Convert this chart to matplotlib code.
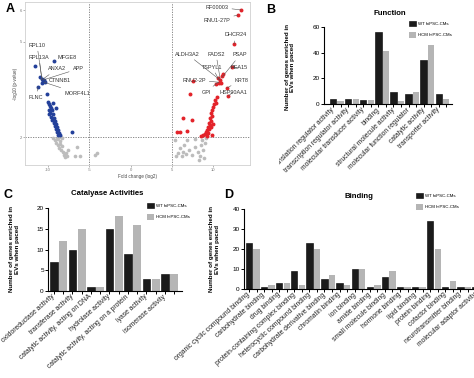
import numpy as np
import matplotlib
matplotlib.use("Agg")
import matplotlib.pyplot as plt
from matplotlib.transforms import Bbox

plt.rcParams['font.family'] = ['Liberation Sans', 'DejaVu Sans']

# ---------------- data: volcano (panel A) ----------------
blue_fc = [-11.58, -9.27, -10.97, -10.73, -10.61, -10.48, -10.73, -10.36, -11.21, -10.12,
           -10.0, -9.88, -9.76, -9.64, -9.88, -9.52, -9.03, -9.76, -9.39, -9.64,
           -9.27, -9.52, -9.15, -9.27, -9.03, -9.15, -8.91, -9.03, -8.79, -8.91,
           -8.67, -8.55, -8.79, -7.09, -9.88, -9.39]
blue_p = [4.24, 4.40, 3.89, 3.83, 3.77, 3.80, 3.70, 3.73, 3.58, 3.36,
          3.10, 3.04, 2.98, 2.91, 2.85, 2.85, 2.91, 2.76, 2.73, 2.63,
          2.60, 2.54, 2.50, 2.44, 2.41, 2.35, 2.32, 2.25, 2.22, 2.16,
          2.13, 2.06, 2.06, 2.16, 2.73, 3.07]

red_fc = [13.39, 13.03, 12.55, 12.30, 11.70, 11.82, 7.58, 7.21, 6.36, 7.45,
          5.64, 6.00, 6.85, 9.88, 10.85, 10.61, 11.09, 10.73, 10.36, 10.97,
          11.21, 10.24, 10.12, 10.00, 9.88, 9.76, 9.88, 9.64, 9.76, 9.52,
          9.64, 9.39, 9.52, 9.27, 9.15, 9.39, 9.03, 8.79, 8.55, 9.76,
          10.0, 10.36, 10.48, 9.27]
red_p = [6.01, 5.85, 4.93, 4.21, 3.55, 3.29, 3.77, 3.36, 2.60, 2.54,
         2.16, 2.16, 2.19, 2.06, 3.80, 3.86, 3.92, 3.70, 3.67, 3.70,
         3.99, 3.17, 3.04, 2.95, 2.85, 2.76, 2.66, 2.60, 2.50, 2.44,
         2.38, 2.32, 2.25, 2.22, 2.16, 2.13, 2.09, 2.06, 2.03, 2.32,
         2.41, 3.07, 3.26, 2.03]

grey_fc = [-9.39, -9.15, -8.91, -9.03, -8.79, -8.55, -8.67, -8.42, -8.30, -8.18,
           -8.06, -7.82, -7.94, -8.55, -8.30, -7.70, -7.58, -8.79, -8.42, -6.48,
           -6.12, -6.73, -4.06, -4.30,
           5.39, 6.00, 5.76, 6.36, 6.73, 7.09, 7.45, 6.48, 7.82, 8.18,
           8.42, 8.55, 8.67, 8.79, 8.91, 9.03, 9.15, 8.30, 6.85, 7.82, 6.24, 5.52]
grey_p = [1.97, 1.91, 1.94, 1.81, 1.75, 1.87, 1.65, 1.59, 1.72, 1.53,
          1.43, 1.50, 1.37, 1.78, 1.97, 1.40, 1.59, 1.97, 1.99, 1.68,
          1.40, 1.40, 1.50, 1.43,
          1.91, 1.65, 1.50, 1.53, 1.46, 1.59, 1.43, 1.75, 1.68, 1.53,
          1.40, 1.75, 1.91, 1.59, 1.34, 1.81, 1.97, 1.27, 1.91, 1.94, 1.40, 1.40]

gene_names = ['RPL10', 'RPL13A', 'MFGE8', 'ANXA2', 'APP', 'CTNNB1', 'MORF4L1', 'FLNC',
              'RF00003', 'RNU1-27P', 'DHCR24', 'ALDH3A2', 'FADS2', 'PSAP', 'TSPYL1',
              'PEA15', 'RNU2-2P', 'KRT8', 'GPI', 'HSP90AA1']
gene_fc = [-10.73, -10.73, -9.27, -10.61, -10.61, -10.36, -10.48, -11.21,
           13.39, 13.03, 12.55, 10.85, 10.85, 11.09, 10.73, 12.30, 10.73, 11.70, 10.61, 11.82]
gene_p = [3.80, 3.80, 4.40, 3.83, 3.80, 3.77, 3.73, 3.58,
          6.01, 5.85, 4.93, 3.80, 3.86, 3.89, 3.80, 4.21, 3.73, 3.55, 3.73, 3.29]
# text placement for the gene labels
gene_txt = [(-11.33, 4.90), (-11.09, 4.52), (-7.70, 4.52), (-8.91, 4.15), (-6.36, 4.15),
            (-8.55, 3.77), (-6.48, 3.39), (-11.45, 3.26),
            (10.48, 6.10), (10.48, 5.69), (12.79, 5.22), (6.85, 4.62), (10.36, 4.62),
            (13.27, 4.59), (9.88, 4.21), (13.15, 4.18), (7.70, 3.80), (13.39, 3.80),
            (9.15, 3.42), (12.42, 3.42)]

# ---------------- data: bar panels ----------------
func_cats = ['translation regulator activity', 'transcription regulator activity',
             'molecular transducer activity', 'binding', 'structural molecule activity',
             'molecular function regulator', 'catalytic activity', 'transporter activity']
func_wt = [4, 4, 3, 56, 9, 8, 34, 8]
func_hcm = [2, 4, 3, 41, 2, 9, 46, 4]

cat_cats = ['oxidoreductase activity', 'transferase activity',
            'catalytic activity, acting on DNA', 'hydrolase activity',
            'catalytic activity, acting on a protein', 'lyase activity', 'isomerase activity']
cat_wt = [7, 10, 1, 15, 9, 3, 4]
cat_hcm = [12, 15, 1, 18, 16, 3, 4]

bind_cats = ['organic cyclic compound binding', 'carbohydrate binding', 'drug binding',
             'protein-containing complex binding', 'heterocyclic compound binding',
             'carbohydrate derivative binding', 'chromatin binding', 'ion binding',
             'amide binding', 'small molecule binding', 'hormone binding', 'lipid binding',
             'protein binding', 'cofactor binding', 'neurotransmitter binding',
             'molecular adaptor activity']
bind_wt = [23, 1, 3, 9, 23, 5, 3, 10, 1, 6, 1, 1, 34, 1, 1, 1]
bind_hcm = [20, 2, 3, 2, 20, 7, 2, 10, 2, 9, 1, 1, 20, 4, 1, 1]

W, H = 474, 378
fig = plt.figure(figsize=(W / 100, H / 100), dpi=100)


def box(l, t, r, b):
    return [l / W, 1 - b / H, (r - l) / W, (b - t) / H]


# ---------------- panel A ----------------
axA = fig.add_axes(box(25, 2, 250, 165))
axA.scatter(grey_fc, grey_p, s=7, color='#bcbcbc', linewidths=0, zorder=2)
axA.scatter(blue_fc, blue_p, s=8, color='#23409a', linewidths=0, zorder=3)
axA.scatter(red_fc, red_p, s=8, color='#e3232a', linewidths=0, zorder=3)
dot = (0, (1.5, 1.5))
axA.axhline(2, ls=dot, color='#777777', lw=0.6, zorder=1)
axA.axvline(-5, ls=dot, color='#777777', lw=0.6, zorder=1)
axA.axvline(5, ls=dot, color='#777777', lw=0.6, zorder=1)
axA.set_xlim(-12.79, 14.48)
axA.set_ylim(1.12, 6.26)
axA.set_xticks([-10, -5, 0, 5, 10])
axA.set_xticklabels(['-10', '-5', '0', '5', '10'])
axA.set_yticks([2, 5, 6])
axA.set_yticklabels(['2', '5', '6'])
axA.tick_params(labelsize=3, colors='#777777', length=1.2, width=0.4, pad=1)
for s in axA.spines.values():
    s.set_color('#d0d0d0')
    s.set_linewidth(0.6)
axA.set_xlabel('Fold change (log2)', fontsize=3.3, color='#444444', labelpad=1.5)
axA.set_ylabel('-log10 (p-value)', fontsize=3.3, color='#444444', labelpad=1.5)
for name, (tx, ty), gx, gy in zip(gene_names, gene_txt, gene_fc, gene_p):
    axA.annotate(name, xy=(gx, gy), xytext=(tx, ty), fontsize=4, color='#333333',
                 ha='center', va='center', zorder=4,
                 arrowprops=dict(arrowstyle='-', color='#555555', lw=0.4,
                                 shrinkA=0.5, shrinkB=0))


# ---------------- bar panels ----------------
def bars(rect, cats, wt, hcm, ymax, yticks, title, rot, xlim, ylab_xy, title_xy, leg_xy):
    ax = fig.add_axes(rect)
    x = np.arange(len(cats))
    ax.bar(x, wt, 0.42, color='#1b1b1b', edgecolor='black', linewidth=0.4,
           label='WT hiPSC-CMs')
    ax.bar(x + 0.5, hcm, 0.42, color='#b5b5b5', linewidth=0, label='HCM hiPSC-CMs')
    ax.set_xlim(*xlim)
    ax.set_ylim(0, ymax)
    ax.set_yticks(yticks)
    ax.set_xticks(x)
    ax.set_xticklabels(cats, rotation=rot, ha='right', va='center',
                       rotation_mode='anchor', fontsize=4.9, color='#222222')
    ax.set_xticks(x + 0.5, minor=True)
    for s in ['top', 'right']:
        ax.spines[s].set_visible(False)
    for s in ['left', 'bottom']:
        ax.spines[s].set_linewidth(0.8)
    ax.tick_params(axis='both', which='both', length=2, width=0.7, direction='out')
    ax.tick_params(axis='y', labelsize=4.6, pad=1)
    ax.tick_params(axis='x', pad=1.5)
    ax.set_ylabel('Number of genes enriched in\nEVs when paced', fontsize=4.5,
                  weight='bold', linespacing=1.1)
    ax.yaxis.set_label_coords(*ylab_xy)
    ax.text(title_xy[0], title_xy[1], title, transform=ax.transAxes, fontsize=5.6,
            weight='bold', ha='center', va='center')
    ax.legend(loc='upper left', bbox_to_anchor=(leg_xy[0] / W, 1 - leg_xy[1] / H),
              bbox_transform=fig.transFigure, frameon=False, fontsize=3.2,
              handlelength=1.5, handleheight=1.5, labelspacing=1.3,
              handletextpad=0.6, borderpad=0, borderaxespad=0)
    return ax


axB = bars(box(324, 27, 452, 104), func_cats, func_wt, func_hcm, 60, [0, 20, 40, 60],
           'Function', 45, (-0.6, 7.88), (-0.225, 0.48), (0.515, 1.17), (409, 21))
lbl = axB.get_xticklabels()[0]
lbl.set_clip_on(True)
lbl.set_clip_box(Bbox([[279, 0], [W, H]]))

axC = bars(box(48, 208, 182, 291), cat_cats, cat_wt, cat_hcm, 20, [0, 5, 10, 15, 20],
           'Catalyase Activities', 42, (-0.32, 6.92), (-0.21, 0.5), (0.44, 1.17), (147, 203))

axD = bars(box(244, 209, 490, 289), bind_cats, bind_wt, bind_hcm, 40, [0, 10, 20, 30, 40],
           'Binding', 42, (-0.33, 15.96), (-0.098, 0.5), (0.467, 1.15), (416, 193))

for t, px, py in [('A', 10, 9), ('B', 271, 10), ('C', 8, 195), ('D', 229, 195)]:
    fig.text(px / W, 1 - py / H, t, fontsize=9, weight='bold', ha='center', va='center')

fig.savefig('out.png', dpi=100)
